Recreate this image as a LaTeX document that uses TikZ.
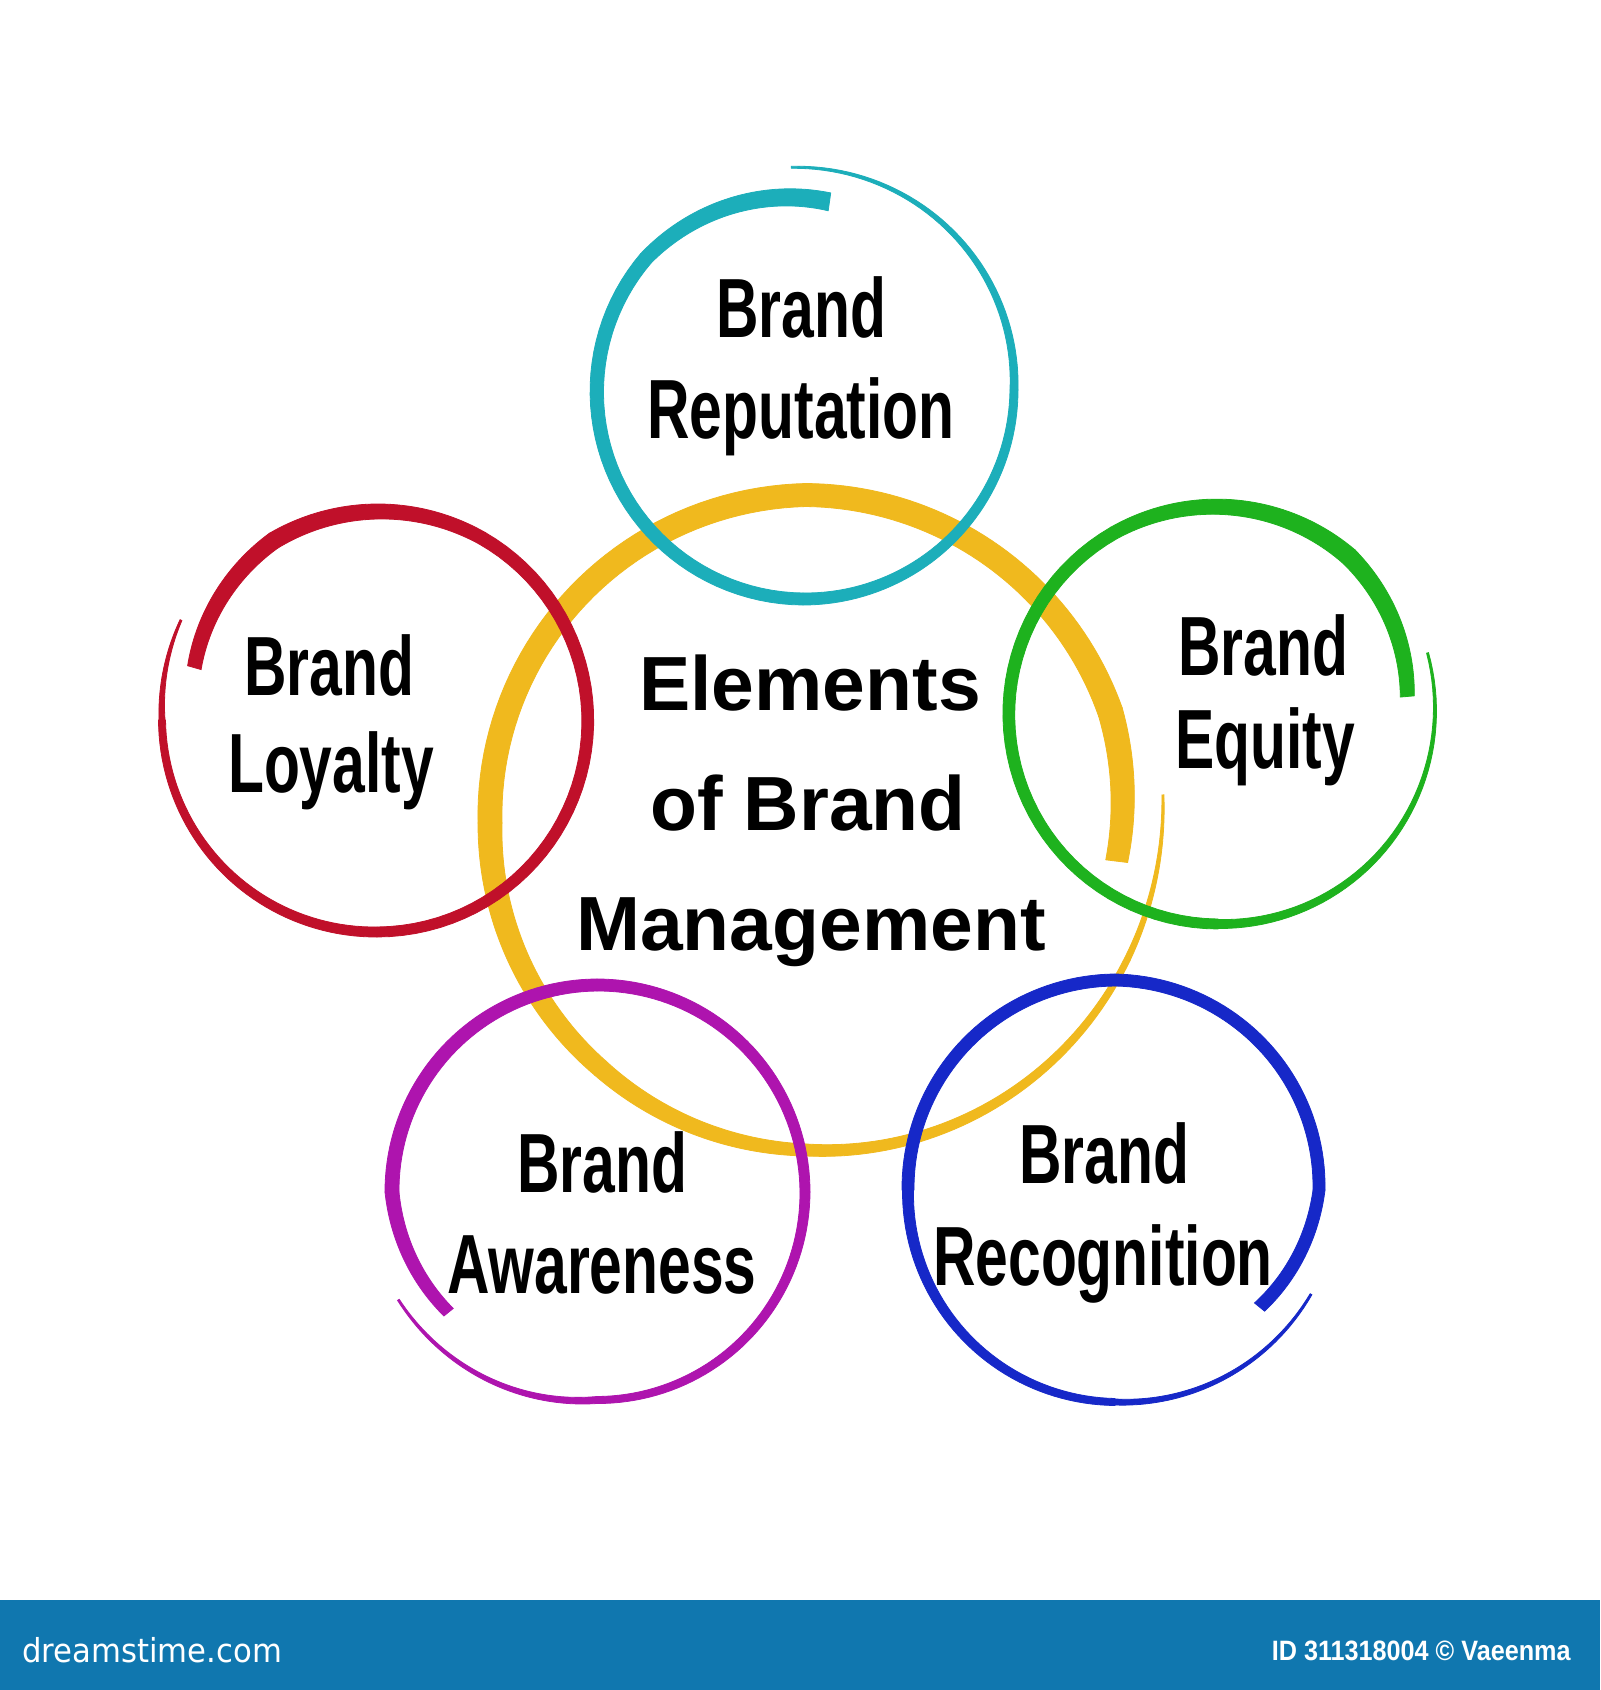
\documentclass[tikz,border=0pt]{standalone}
\usepackage{fontspec}
\setmainfont{Liberation Sans}
\newfontfamily\lblfam[FakeStretch=0.70]{Liberation Sans}
\newfontfamily\ttlfam{Liberation Sans}
\newfontfamily\idfam[FakeStretch=0.9]{Liberation Sans}
\newfontfamily\dsfam[FakeStretch=0.93]{DejaVu Sans}
\newcommand\lblfont{\lblfam\bfseries\fontsize{42}{50}\selectfont}
\newcommand\ttlfont{\ttlfam\bfseries\fontsize{38.4}{46}\selectfont}
\definecolor{cY}{RGB}{240,185,30}
\definecolor{cT}{RGB}{28,174,186}
\definecolor{cR}{RGB}{192,16,42}
\definecolor{cG}{RGB}{30,178,30}
\definecolor{cP}{RGB}{174,20,174}
\definecolor{cB}{RGB}{22,40,200}
\definecolor{barblue}{RGB}{16,119,175}
% spiral stroke segment: colour, cx, cy, a0, a1, r0, r1, w0, w1
\newcommand\seg[9]{%
 \filldraw[#1,line width=0.4pt] plot[domain=#4:#5,samples=45,variable=\t]
   ({#2+(#6+(#7-(#6))*(\t-(#4))/(#5-(#4))+0.5*(#8+(#9-(#8))*(\t-(#4))/(#5-(#4))))*cos(\t)},
    {#3-(#6+(#7-(#6))*(\t-(#4))/(#5-(#4))+0.5*(#8+(#9-(#8))*(\t-(#4))/(#5-(#4))))*sin(\t)})
   -- plot[domain=#5:#4,samples=45,variable=\t]
   ({#2+(#6+(#7-(#6))*(\t-(#4))/(#5-(#4))-0.5*(#8+(#9-(#8))*(\t-(#4))/(#5-(#4))))*cos(\t)},
    {#3-(#6+(#7-(#6))*(\t-(#4))/(#5-(#4))-0.5*(#8+(#9-(#8))*(\t-(#4))/(#5-(#4))))*sin(\t)})
   -- cycle;}
\tikzset{
  lbl/.style={font=\lblfont, anchor=base, inner sep=0pt, text=black},
  ttl/.style={font=\ttlfont, anchor=base, inner sep=0pt, text=black},
}
\begin{document}
\begin{tikzpicture}[x=0.5pt,y=-0.5pt]
\useasboundingbox (0,0) rectangle (1600,1690);
\fill[white] (0,0) rectangle (1600,1690);
% central yellow ring
\seg{cY}{806}{823}{-7}{20}{313}{324}{22}{25}
\seg{cY}{806}{823}{20}{90}{324}{328}{25}{23}
\seg{cY}{806}{823}{90}{180}{328}{316}{23}{24}
\seg{cY}{806}{823}{180}{230}{316}{320}{24}{18}
\seg{cY}{806}{823}{230}{270}{320}{327}{18}{12}
\seg{cY}{806}{823}{270}{337}{327}{349}{12}{6}
\seg{cY}{806}{823}{337}{364.5}{349}{358}{6}{2}
% teal
\seg{cT}{803}{390}{82}{140}{190}{205}{18}{14}
\seg{cT}{803}{390}{140}{270}{205}{209}{14}{12}
\seg{cT}{803}{390}{270}{360}{209}{211}{12}{8}
\seg{cT}{803}{390}{360}{453}{211}{223}{8}{2}
% red
\seg{cR}{377}{720}{164}{120}{190}{207}{14}{17}
\seg{cR}{377}{720}{120}{60}{207}{210}{17}{13}
\seg{cR}{377}{720}{60}{-90}{210}{212}{13}{10}
\seg{cR}{377}{720}{-90}{-180}{212}{215}{10}{7}
\seg{cR}{377}{720}{-180}{-207}{215}{220}{6}{2}
% green
\seg{cG}{1218}{713}{5}{50}{190}{204}{14}{18}
\seg{cG}{1218}{713}{50}{120}{204}{208}{18}{13}
\seg{cG}{1218}{713}{120}{270}{208}{211}{13}{10}
\seg{cG}{1218}{713}{270}{376}{211}{218}{9}{2}
% purple
\seg{cP}{597}{1192}{219}{180}{191}{205}{12}{14}
\seg{cP}{597}{1192}{180}{90}{205}{207}{14}{12}
\seg{cP}{597}{1192}{90}{0}{207}{208}{12}{10}
\seg{cP}{597}{1192}{0}{-90}{208}{208}{10}{7}
\seg{cP}{597}{1192}{-90}{-151.5}{208}{226}{7}{2}
% blue
\seg{cB}{1115}{1190}{-39}{0}{186}{204}{13}{12}
\seg{cB}{1115}{1190}{0}{90}{204}{210}{12}{12}
\seg{cB}{1115}{1190}{90}{180}{210}{207}{12}{12}
\seg{cB}{1115}{1190}{180}{270}{207}{212}{11}{7}
\seg{cB}{1115}{1190}{270}{332}{212}{222}{6}{2}
% labels
\node[lbl] (rep1) at (801,337) {Brand};
\node[lbl] (rep2) at (801,438) {Reputation};
\node[lbl] (loy1) at (329,695) {Brand};
\node[lbl] (loy2) at (331,792) {Loyalty};
\node[lbl] (equ1) at (1263,675) {Brand};
\node[lbl] (equ2) at (1265,768) {Equity};
\node[lbl] (awa1) at (602,1192) {Brand};
\node[lbl] (awa2) at (602,1293) {Awareness};
\node[lbl] (rec1) at (1104,1183) {Brand};
\node[lbl] (rec2) at (1103,1285) {Recognition};
% centre title
\node[ttl] (t1) at (810,710) {Elements};
\node[ttl] (t2) at (808,830) {of Brand};
\node[ttl] (t3) at (811,950) {Management};
% bottom bar
\fill[barblue] (0,1600) rectangle (1600,1690);
\node[anchor=base west, inner sep=0pt, text=white, font=\dsfam\fontsize{16.5}{18}\selectfont] (ds) at (22,1662) {dreamstime.com};
\node[anchor=base east, inner sep=0pt, text=white, font=\idfam\bfseries\fontsize{14}{16}\selectfont] (id) at (1571,1660) {ID 311318004 © Vaeenma};
\end{tikzpicture}
\end{document}
